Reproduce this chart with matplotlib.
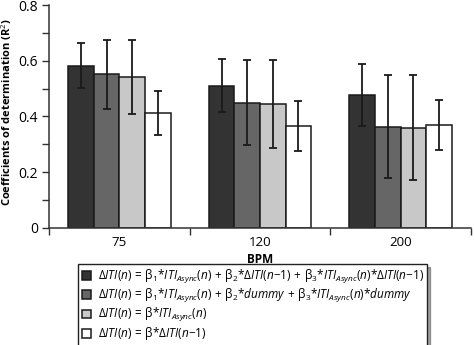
import numpy as np
import matplotlib
matplotlib.use("Agg")
import matplotlib.pyplot as plt
from matplotlib.ticker import MultipleLocator

# font setup - Open Sans has greek glyphs, used for math too
plt.rcParams['font.family'] = ['Open Sans', 'DejaVu Sans']
plt.rcParams['mathtext.fontset'] = 'custom'
plt.rcParams['mathtext.rm'] = 'Open Sans'
plt.rcParams['mathtext.it'] = 'Open Sans:italic'
plt.rcParams['mathtext.bf'] = 'Open Sans:bold'
plt.rcParams['mathtext.sf'] = 'Open Sans'

# data
bpm = ['75', '120', '200']
full_model = [0.583, 0.511, 0.477]
full_err = [0.082, 0.096, 0.111]
dummy_model = [0.552, 0.450, 0.363]
dummy_err = [0.124, 0.153, 0.185]
async_model = [0.543, 0.445, 0.360]
async_err = [0.133, 0.158, 0.188]
prev_model = [0.413, 0.367, 0.369]
prev_err = [0.078, 0.090, 0.091]

labels = [
    r'$\Delta ITI(n)\,=\,\mathrm{\beta}_1{*}ITI_{Async}(n)\,+\,\mathrm{\beta}_2{*}\Delta ITI(n{-}1)\,+\,\mathrm{\beta}_3{*}ITI_{Async}(n){*}\Delta ITI(n{-}1)$',
    r'$\Delta ITI(n)\,=\,\mathrm{\beta}_1{*}ITI_{Async}(n)\,+\,\mathrm{\beta}_2{*}dummy\,+\,\mathrm{\beta}_3{*}ITI_{Async}(n){*}dummy$',
    r'$\Delta ITI(n)\,=\,\mathrm{\beta}{*}ITI_{Async}(n)$',
    r'$\Delta ITI(n)\,=\,\mathrm{\beta}{*}\Delta ITI(n{-}1)$',
]
colors = ['#333333', '#666666', '#c8c8c8', '#ffffff']

fig = plt.figure(figsize=(4.74, 3.45), dpi=100)
ax = fig.add_axes([0.1034, 0.340, 0.890, 0.645])

x = np.arange(len(bpm))
width = 0.182
series = [(full_model, full_err), (dummy_model, dummy_err),
          (async_model, async_err), (prev_model, prev_err)]
for i, (vals, errs) in enumerate(series):
    pos = x + (i - 1.5) * width
    ax.bar(pos, vals, width, color=colors[i], edgecolor='#1a1a1a',
           linewidth=1.1, label=labels[i], zorder=2)
    ax.errorbar(pos, vals, yerr=errs, fmt='none', ecolor='#1a1a1a',
                elinewidth=1.3, capsize=2.8, capthick=1.3, zorder=3)

ax.set_xlim(-0.5, 2.5)
ax.set_ylim(0, 0.8)
ax.set_yticks([0, 0.2, 0.4, 0.6, 0.8])
ax.set_yticklabels(['0', '0.2', '0.4', '0.6', '0.8'])
ax.yaxis.set_minor_locator(MultipleLocator(0.1))

# category boundaries as major ticks, labels on minor ticks
ax.set_xticks([-0.5, 0.5, 1.5, 2.5])
ax.set_xticklabels([])
ax.set_xticks(x, minor=True)
ax.set_xticklabels(bpm, minor=True)
ax.tick_params(axis='x', which='minor', length=0, labelsize=9.5, pad=6)
ax.tick_params(axis='x', which='major', length=5, width=1, color='#333333')
ax.tick_params(axis='y', which='both', length=5, width=1, color='#333333',
               labelsize=10, pad=3)

for s in ['top', 'right']:
    ax.spines[s].set_visible(False)
for s in ['left', 'bottom']:
    ax.spines[s].set_color('#333333')
    ax.spines[s].set_linewidth(1.1)

ax.set_ylabel('Coefficients of determination (R$^{2}$)', fontsize=8,
              fontweight='bold')
ax.yaxis.set_label_coords(-0.084, 0.52)
ax.set_xlabel('BPM', fontsize=8.5, fontweight='bold')
ax.xaxis.set_label_coords(0.5, -0.112)

leg = fig.legend(loc='upper left', bbox_to_anchor=(0.165, 0.234),
                 fontsize=8.5, frameon=True, fancybox=False, shadow=True,
                 handlelength=0.75, handleheight=0.75, handletextpad=0.6,
                 labelspacing=0.1, borderpad=0.3, borderaxespad=0)
leg.get_frame().set_edgecolor('#222222')
leg.get_frame().set_linewidth(1.0)

fig.savefig('out.png', dpi=100)
